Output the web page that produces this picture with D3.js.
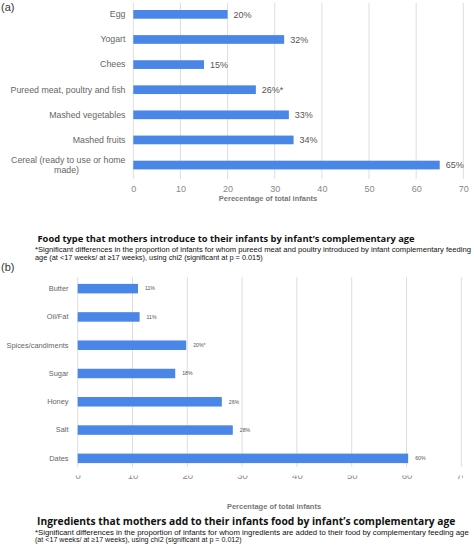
<!DOCTYPE html>
<html>
<head>
<meta charset="utf-8">
<script src="https://cdn.jsdelivr.net/npm/d3@7"></script>
<style>
  body { margin: 0; background: #fff; }
  svg { display: block; }
  .tick line { display: none; }
  .domain { display: none; }
</style>
</head>
<body>
<div class="chart"></div>
<script>
// data for panel (a)
var foodTypes = ["Egg", "Yogart", "Chees", "Pureed meat, poultry and fish",
  "Mashed vegetables", "Mashed fruits", "Cereal (ready to use or home made)"];
var foodValues = [20, 32, 15, 26, 33, 34, 65];
var foodLabels = ["20%", "32%", "15%", "26%*", "33%", "34%", "65%"];

// data for panel (b)
var ingredients = ["Butter", "Oil/Fat", "Spices/candiments", "Sugar", "Honey", "Salt", "Dates"];
var ingredientValues = [11, 11.3, 19.8, 17.8, 26.3, 28.3, 60.3];
var ingredientLabels = ["11%", "11%", "20%*", "18%", "26%", "28%", "60%"];

var xTicks = [0, 10, 20, 30, 40, 50, 60, 70];

var svgWidth = 474;
var svgHeight = 556;
var barColor = "#4a86e8";
var font = "'Liberation Sans', Arial, sans-serif";

var svg = d3.select(".chart")
  .append("svg")
  .attr("width", svgWidth)
  .attr("height", svgHeight)
  .style("font-family", font);

// clip for the cut-off "70" in panel (b)
svg.append("clipPath").attr("id", "clipB")
  .append("rect").attr("x", 0).attr("y", 0).attr("width", 463).attr("height", svgHeight);

function drawPanel(opt) {
  var x = d3.scaleLinear().domain([0, 70]).range([opt.left, opt.right]);
  var y = d3.scaleBand()
    .domain(opt.cats)
    .range([opt.top, opt.bottom])
    .paddingInner(0.62)
    .paddingOuter(0.31);

  var g = svg.append("g");

  // gridlines
  g.selectAll(".grid")
    .data(xTicks)
    .enter()
    .append("line")
    .attr("x1", d => x(d)).attr("x2", d => x(d))
    .attr("y1", opt.gridTop).attr("y2", opt.gridBottom)
    .attr("stroke", "#dedede")
    .attr("stroke-width", 1);

  // bars
  g.selectAll(".bar")
    .data(opt.values)
    .enter()
    .append("rect")
    .attr("x", x(0))
    .attr("y", (d, i) => y(opt.cats[i]) + (y.bandwidth() - opt.barH) / 2)
    .attr("width", d => x(d) - x(0))
    .attr("height", opt.barH)
    .attr("fill", barColor);

  // value labels
  g.selectAll(".val")
    .data(opt.values)
    .enter()
    .append("text")
    .attr("x", d => x(d) + opt.valGap)
    .attr("y", (d, i) => y(opt.cats[i]) + y.bandwidth() / 2)
    .attr("dy", "0.35em")
    .attr("font-size", opt.valSize)
    .attr("fill", "#555")
    .text((d, i) => opt.labels[i]);

  // category axis
  var leftAxis = d3.axisLeft(y).tickSize(0).tickPadding(0);
  var ax = g.append("g")
    .attr("transform", `translate(${opt.catX}, 0)`)
    .call(leftAxis);
  ax.selectAll("text")
    .attr("font-size", opt.catSize)
    .attr("font-family", font)
    .attr("fill", "#666")
    .each(function(d) {
      if (d.indexOf("Cereal") === 0) {
        var t = d3.select(this).text(null);
        t.append("tspan").attr("x", 0).attr("dy", "-0.25em").text("Cereal (ready to use or home");
        t.append("tspan").attr("x", -46.5).attr("dy", "1.2em").text("made)");
      }
    });

  // value axis
  var bottomAxis = d3.axisBottom(x).tickValues(xTicks).tickSize(0).tickPadding(0);
  var bx = g.append("g")
    .attr("transform", `translate(0, ${opt.tickY})`)
    .call(bottomAxis);
  bx.selectAll("text")
    .attr("font-size", opt.tickSize)
    .attr("font-family", font)
    .attr("fill", "#888")
    .attr("dy", "0.35em")
    .attr("y", 0);
  if (opt.clip) bx.attr("clip-path", "url(#clipB)");

  g.append("text")
    .attr("x", opt.axTitleX)
    .attr("y", opt.axTitleY)
    .attr("text-anchor", "middle")
    .attr("dy", "0.35em")
    .attr("font-size", opt.axTitleSize)
    .attr("font-weight", "bold")
    .attr("fill", "#777")
    .text(opt.axTitle);
}

// caption text sized so its natural width matches the target width
function caption(txt, x, y, w, size, weight, family) {
  var t = svg.append("text")
    .attr("x", x).attr("y", y)
    .attr("dy", "0.35em")
    .attr("font-family", family)
    .attr("font-size", size)
    .attr("font-weight", weight)
    .attr("fill", "#111")
    .text(txt);
  var len = t.node().getComputedTextLength();
  t.attr("font-size", size * w / len);
}

var titleFont = "'Open Sans', sans-serif";

// panel labels
svg.append("text").attr("x", 1).attr("y", 7).attr("dy", "0.35em")
  .attr("font-size", 11).attr("fill", "#333").text("(a)");
svg.append("text").attr("x", 1).attr("y", 267).attr("dy", "0.35em")
  .attr("font-size", 11).attr("fill", "#333").text("(b)");

drawPanel({
  cats: foodTypes, values: foodValues, labels: foodLabels,
  left: 133.3, right: 463.3, top: 1.8, bottom: 177.6,
  gridTop: 3, gridBottom: 179, barH: 8.7,
  catX: 125.5, catSize: 8.8, valGap: 6, valSize: 9,
  tickY: 189, tickSize: 9, axTitle: "Perecentage of total infants",
  axTitleX: 268, axTitleY: 198, axTitleSize: 7.5
});

drawPanel({
  cats: ingredients, values: ingredientValues, labels: ingredientLabels,
  left: 77.7, right: 461.3, top: 274.5, bottom: 472.5,
  gridTop: 277, gridBottom: 467, barH: 9.5,
  catX: 68.5, catSize: 7.4, valGap: 7, valSize: 5.2,
  tickY: 475.5, tickSize: 9.5, axTitle: "Percentage of total infants",
  axTitleX: 274, axTitleY: 506, axTitleSize: 7.5, clip: true
});

// captions
caption("Food type that mothers introduce to their infants by infant\u2019s complementary age",
  37.5, 238.5, 377.5, 10, "bold", titleFont);
caption("*Significant differences in the proportion of infants for whom pureed meat and poultry introduced by infant complementary feeding",
  35, 249.8, 437, 6, "normal", font);
caption("age (at <17 weeks/ at \u226517 weeks), using chi2 (significant at p = 0.015)",
  35, 257.6, 228, 6, "normal", font);

caption("Ingredients that mothers add to their infants food by infant\u2019s complementary age",
  37, 521, 419, 10, "bold", titleFont);
caption("*Significant differences in the proportion of infants for whom ingredients are added to their food by complementary feeding age",
  35, 531.8, 435, 6, "normal", font);
caption("(at <17 weeks/ at \u226517 weeks), using chi2 (significant at p = 0.012)",
  35, 539.6, 207, 6, "normal", font);
</script>
</body>
</html>
